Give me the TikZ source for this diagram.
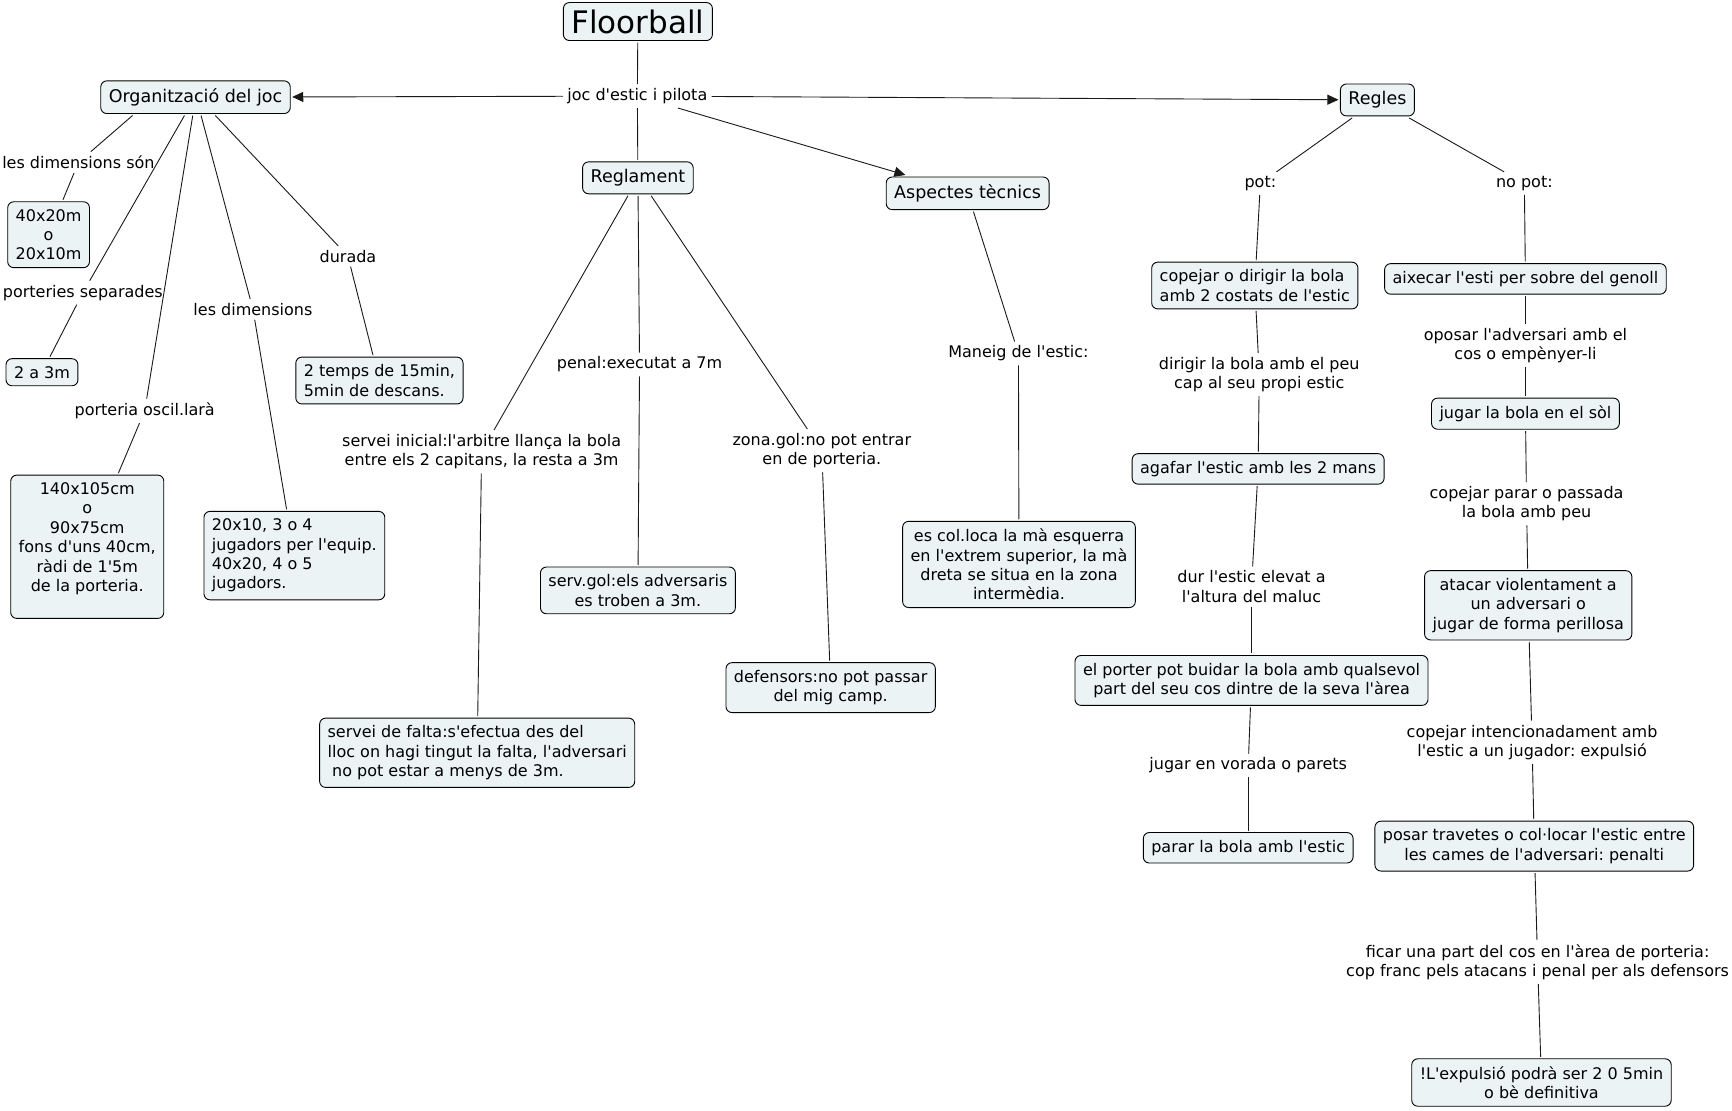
\documentclass[tikz,border=0pt]{standalone}
\usepackage{fontspec}
\setmainfont{DejaVu Sans}[Ligatures=TeXOff]
\usepackage{xcolor}
\usetikzlibrary{arrows.meta,positioning,calc}
\definecolor{cmapfill}{HTML}{EBF3F5}
\frenchspacing

\begin{document}
\begin{tikzpicture}[x=1.1046pt,y=-1.1046pt,
  every node/.style={font=\fontsize{16}{19.4}\selectfont},
  concept/.style={draw=black,line width=0.9pt,fill=cmapfill,rounded corners=6pt,inner xsep=8pt,inner ysep=7.5pt,outer sep=2pt,align=center},
  mainconcept/.style={concept,font=\fontsize{17.5}{21}\selectfont},
  linkword/.style={inner sep=4pt,align=center},
  link/.style={draw=black!90,line width=0.9pt},
  arrowlink/.style={link,-{Triangle[length=11pt,width=10pt]}}]
\path[fill=white,use as bounding box] (0,0) rectangle (1568,1005);

\node[concept,font=\fontsize{31}{37}\selectfont,inner ysep=7pt] (floorball) at (577.5,19.5) {Floorball};
\node[linkword] (joc) at (577,87) {joc d'estic i pilota};
\node[mainconcept] (org) at (177,88) {Organització del joc};
\node[mainconcept] (regl) at (577.5,161) {Reglament};
\node[mainconcept] (asp) at (876,175) {Aspectes tècnics};
\node[mainconcept] (regles) at (1247,90.5) {Regles};

\node[linkword] (dimson) at (71,147) {les dimensions són};
\node[concept] (camp) at (44,212.5) {40x20m\\o\\20x10m};
\node[linkword] (portsep) at (75,265) {porteries separades};
\node[concept] (dist) at (38,337) {2 a 3m};
\node[linkword] (oscil) at (131,372) {porteria oscil.larà};
\node[concept] (porteria) at (79,495) {140x105cm\\o\\90x75cm\\fons d'uns 40cm,\\ràdi de 1'5m\\de la porteria.\\\mbox{}};
\node[linkword] (dim) at (229,280) {les dimensions};
\node[concept,align=left] (jugadors) at (266.5,503) {20x10, 3 o 4\\jugadors per l'equip.\\40x20, 4 o 5\\jugadors.};
\node[linkword] (durada) at (315,232) {durada};
\node[concept,align=left] (temps) at (343.5,344.5) {2 temps de 15min,\\5min de descans.};

\node[linkword] (servini) at (436,409) {servei inicial:l'arbitre llança la bola\\entre els 2 capitans, la resta a 3m};
\node[concept,align=left] (falta) at (432,681.5) {servei de falta:s'efectua des del\\lloc on hagi tingut la falta, l'adversari\\\hspace*{4.5pt}no pot estar a menys de 3m.};
\node[linkword] (penal) at (579,330) {penal:executat a 7m};
\node[concept] (servgol) at (577.5,534.5) {serv.gol:els adversaris\\es troben a 3m.};
\node[linkword] (zona) at (744,408) {zona.gol:no pot entrar\\en de porteria.};
\node[concept] (def) at (752,622.5) {defensors:no pot passar\\del mig camp.};

\node[linkword] (maneig) at (922,320) {Maneig de l'estic:};
\node[concept] (coloca) at (922.5,511) {es col.loca la mà esquerra\\en l'extrem superior, la mà\\dreta se situa en la zona\\intermèdia.};

\node[linkword] (pot) at (1141,166) {pot:};
\node[linkword] (nopot) at (1380,166) {no pot:};
\node[concept,align=left] (copejar) at (1136,258.5) {copejar o dirigir la bola\\amb 2 costats de l'estic};
\node[linkword] (dirpeu) at (1140,339) {dirigir la bola amb el peu\\cap al seu propi estic};
\node[concept] (agafar) at (1139,424.5) {agafar l'estic amb les 2 mans};
\node[linkword] (elevat) at (1133,531) {dur l'estic elevat a\\l'altura del maluc};
\node[concept] (porter) at (1133,616) {el porter pot buidar la bola amb qualsevol\\part del seu cos dintre de la seva l'àrea};
\node[linkword] (vorada) at (1130,693) {jugar en vorada o parets};
\node[concept] (parar) at (1130,767.5) {parar la bola amb l'estic};

\node[concept] (aixecar) at (1381,252.5) {aixecar l'esti per sobre del genoll};
\node[linkword] (oposar) at (1381,313) {oposar l'adversari amb el\\cos o empènyer-li};
\node[concept] (sol) at (1381,374.5) {jugar la bola en el sòl};
\node[linkword] (passada) at (1382,456) {copejar parar o passada\\la bola amb peu};
\node[concept] (atacar) at (1383.5,548) {atacar violentament a\\un adversari o\\jugar de forma perillosa};
\node[linkword] (expulsio) at (1387,672) {copejar intencionadament amb\\l'estic a un jugador: expulsió};
\node[concept] (travetes) at (1389,766) {posar travetes o col·locar l'estic entre\\les cames de l'adversari: penalti};
\node[linkword] (ficar) at (1392,871) {ficar una part del cos en l'àrea de porteria:\\cop franc pels atacans i penal per als defensors};
\node[concept] (definitiva) at (1395.5,980) {!L'expulsió podrà ser 2 0 5min\\o bè definitiva};

\draw[link] (floorball) -- (joc);
\draw[link] (joc) -- (regl);
\draw[arrowlink] (joc) -- (org);
\draw[arrowlink] (joc) -- (regles);
\draw[arrowlink] (joc) -- (asp);

\draw[link] ($(org.south)+(-57,0)$) -- (dimson);
\draw[link] (dimson) -- (camp);
\draw[link] ($(org.south)+(-10,0)$) -- (portsep);
\draw[link] (portsep) -- (dist);
\draw[link] ($(org.south)+(-2.5,0)$) -- (oscil);
\draw[link] (oscil) -- (porteria);
\draw[link] ($(org.south)+(5,0)$) -- (dim);
\draw[link] (dim) -- (jugadors);
\draw[link] ($(org.south)+(18,0)$) -- (durada);
\draw[link] (durada) -- (temps);

\draw[link] ($(regl.south)+(-9,0)$) -- (servini);
\draw[link] (servini) -- (falta);
\draw[link] (regl) -- (penal);
\draw[link] (penal) -- (servgol);
\draw[link] ($(regl.south)+(12,0)$) -- (zona);
\draw[link] (zona) -- (def);

\draw[link] (asp) -- (maneig);
\draw[link] (maneig) -- (coloca);

\draw[link] (regles) -- (pot);
\draw[link] (regles) -- (nopot);
\draw[link] (pot) -- (copejar);
\draw[link] (copejar) -- (dirpeu);
\draw[link] (dirpeu) -- (agafar);
\draw[link] (agafar) -- (elevat);
\draw[link] (elevat) -- (porter);
\draw[link] (porter) -- (vorada);
\draw[link] (vorada) -- (parar);
\draw[link] (nopot) -- (aixecar);
\draw[link] (aixecar) -- (oposar);
\draw[link] (oposar) -- (sol);
\draw[link] (sol) -- (passada);
\draw[link] (passada) -- (atacar);
\draw[link] (atacar) -- (expulsio);
\draw[link] (expulsio) -- (travetes);
\draw[link] (travetes) -- (ficar);
\draw[link] (ficar) -- (definitiva);
\end{tikzpicture}
\end{document}
